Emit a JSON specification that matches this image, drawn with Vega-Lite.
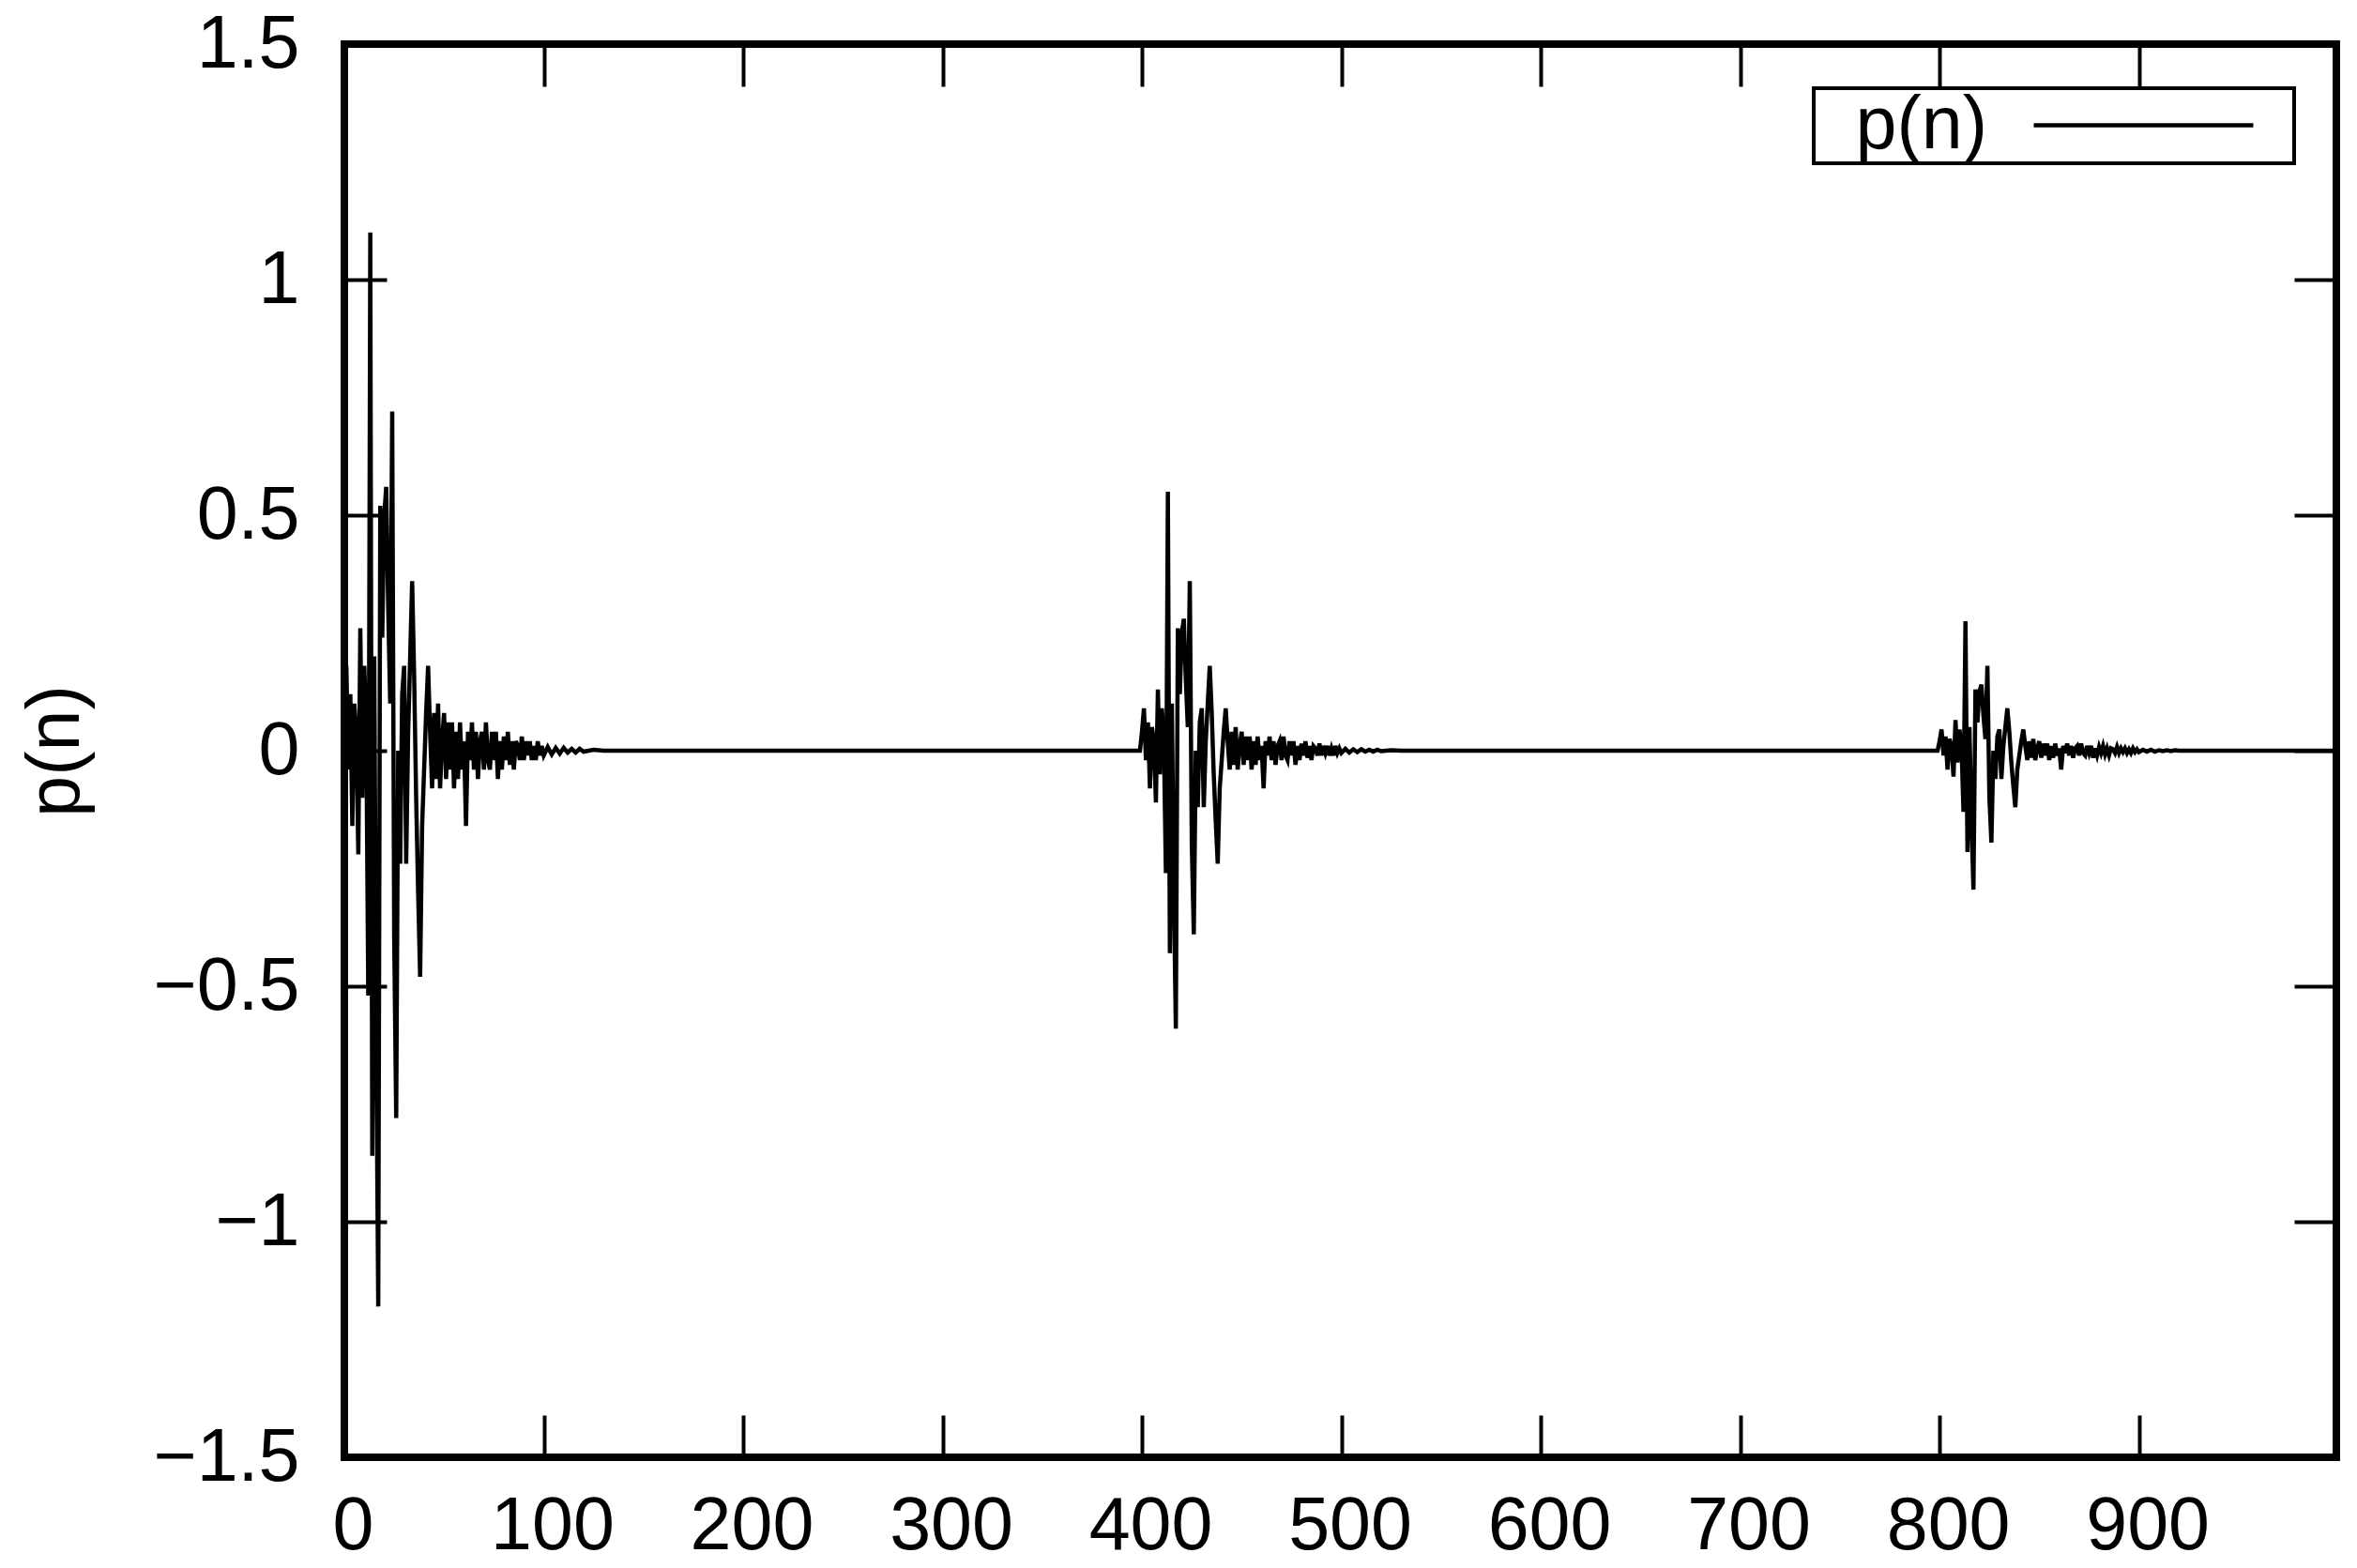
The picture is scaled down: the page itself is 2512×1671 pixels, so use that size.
{
  "$schema": "https://vega.github.io/schema/vega-lite/v6.json",
  "width": 2123,
  "height": 1506,
  "autosize": {"type": "none"},
  "padding": {"left": 367, "top": 47, "right": 22, "bottom": 118},
  "background": "white",
  "config": {
    "view": {"stroke": "black", "strokeWidth": 8},
    "font": "Liberation Sans",
    "axis": {
      "domain": false,
      "grid": false,
      "labelFont": "Liberation Sans",
      "labelFontSize": 79,
      "labelColor": "black",
      "labelFlush": false,
      "labelOverlap": false,
      "labelBound": false,
      "tickColor": "black",
      "tickWidth": 4,
      "tickSize": -45,
      "titleFont": "Liberation Sans",
      "titleFontSize": 79,
      "titleFontWeight": "normal",
      "titleColor": "black"
    },
    "legend": {
      "padding": 0,
      "strokeColor": "black",
      "strokeWidth": 4,
      "symbolType": "M-6,0H6M7.75,0",
      "symbolSize": 1521,
      "symbolOffset": 312,
      "symbolStrokeColor": "black",
      "symbolStrokeWidth": 4.5,
      "symbolFillColor": "transparent",
      "labelFont": "Liberation Sans",
      "labelFontSize": 79,
      "labelColor": "black",
      "labelAlign": "right",
      "labelOffset": -206
    }
  },
  "data": {
    "values": [
      {"n":0,"p":0.08},{"n":1,"p":0.18},{"n":2,"p":-0.04},{"n":3,"p":0.12},{"n":4,"p":-0.16},{"n":5,"p":0.1},{"n":6,"p":0.04},{"n":7,"p":-0.22},{"n":8,"p":0.26},{"n":9,"p":-0.1},
      {"n":10,"p":0.18},{"n":11,"p":0.04},{"n":12,"p":-0.52},{"n":13,"p":1.1},{"n":14,"p":-0.86},{"n":15,"p":0.2},{"n":16,"p":-0.6},{"n":17,"p":-1.18},{"n":18,"p":0.52},{"n":19,"p":0.24},
      {"n":20,"p":0.5},{"n":21,"p":0.56},{"n":22,"p":0.3},{"n":23,"p":0.1},{"n":24,"p":0.72},{"n":25,"p":-0.4},{"n":26,"p":-0.78},{"n":27,"p":0},{"n":28,"p":-0.24},{"n":29,"p":0.12},
      {"n":30,"p":0.18},{"n":31,"p":-0.24},{"n":32,"p":0.04},{"n":33,"p":0.2},{"n":34,"p":0.36},{"n":35,"p":0.16},{"n":36,"p":-0.1},{"n":37,"p":-0.3},{"n":38,"p":-0.48},{"n":39,"p":-0.16},
      {"n":40,"p":-0.04},{"n":41,"p":0.08},{"n":42,"p":0.18},{"n":43,"p":0.04},{"n":44,"p":-0.08},{"n":45,"p":0.08},{"n":46,"p":-0.06},{"n":47,"p":0.1},{"n":48,"p":-0.08},{"n":49,"p":0.02},
      {"n":50,"p":0.08},{"n":51,"p":-0.06},{"n":52,"p":0.06},{"n":53,"p":-0.04},{"n":54,"p":0.06},{"n":55,"p":-0.08},{"n":56,"p":0.04},{"n":57,"p":-0.06},{"n":58,"p":0.06},{"n":59,"p":-0.04},
      {"n":60,"p":0.02},{"n":61,"p":-0.16},{"n":62,"p":0.04},{"n":63,"p":-0.02},{"n":64,"p":0.06},{"n":65,"p":-0.04},{"n":66,"p":0.04},{"n":67,"p":-0.06},{"n":68,"p":0.02},{"n":69,"p":0.04},
      {"n":70,"p":-0.04},{"n":71,"p":0.06},{"n":72,"p":-0.02},{"n":73,"p":-0.04},{"n":74,"p":0.04},{"n":75,"p":-0.02},{"n":76,"p":0.04},{"n":77,"p":-0.06},{"n":78,"p":0.02},{"n":79,"p":-0.04},
      {"n":80,"p":0.03},{"n":81,"p":-0.02},{"n":82,"p":0.04},{"n":83,"p":-0.03},{"n":84,"p":0.02},{"n":85,"p":-0.04},{"n":86,"p":0.02},{"n":87,"p":0.01},{"n":88,"p":-0.02},{"n":89,"p":0.03},
      {"n":90,"p":-0.02},{"n":91,"p":0.02},{"n":92,"p":-0.01},{"n":93,"p":0.02},{"n":94,"p":-0.02},{"n":95,"p":0.01},{"n":96,"p":-0.02},{"n":97,"p":0.02},{"n":98,"p":-0.01},{"n":99,"p":0.01},
      {"n":100,"p":-0.01},{"n":102,"p":0.008},{"n":104,"p":-0.008},{"n":106,"p":0.006},{"n":108,"p":-0.006},{"n":110,"p":0.006},{"n":112,"p":-0.004},{"n":114,"p":0.004},{"n":116,"p":-0.004},{"n":118,"p":0.004},
      {"n":120,"p":-0.002},{"n":125,"p":0.002},{"n":130,"p":0},{"n":140,"p":0},{"n":150,"p":0},{"n":160,"p":0},{"n":170,"p":0},{"n":180,"p":0},{"n":190,"p":0},{"n":200,"p":0},
      {"n":210,"p":0},{"n":220,"p":0},{"n":230,"p":0},{"n":240,"p":0},{"n":250,"p":0},{"n":260,"p":0},{"n":270,"p":0},{"n":280,"p":0},{"n":290,"p":0},{"n":300,"p":0},
      {"n":310,"p":0},{"n":320,"p":0},{"n":330,"p":0},{"n":340,"p":0},{"n":350,"p":0},{"n":360,"p":0},{"n":370,"p":0},{"n":380,"p":0},{"n":390,"p":0},{"n":399,"p":0},
      {"n":400,"p":0.04},{"n":401,"p":0.09},{"n":402,"p":-0.02},{"n":403,"p":0.06},{"n":404,"p":-0.08},{"n":405,"p":0.05},{"n":406,"p":0.02},{"n":407,"p":-0.11},{"n":408,"p":0.13},{"n":409,"p":-0.05},
      {"n":410,"p":0.09},{"n":411,"p":0.02},{"n":412,"p":-0.26},{"n":413,"p":0.55},{"n":414,"p":-0.43},{"n":415,"p":0.1},{"n":416,"p":-0.3},{"n":417,"p":-0.59},{"n":418,"p":0.26},{"n":419,"p":0.12},
      {"n":420,"p":0.25},{"n":421,"p":0.28},{"n":422,"p":0.15},{"n":423,"p":0.05},{"n":424,"p":0.36},{"n":425,"p":-0.2},{"n":426,"p":-0.39},{"n":427,"p":0},{"n":428,"p":-0.12},{"n":429,"p":0.06},
      {"n":430,"p":0.09},{"n":431,"p":-0.12},{"n":432,"p":0.02},{"n":433,"p":0.1},{"n":434,"p":0.18},{"n":435,"p":0.08},{"n":436,"p":-0.05},{"n":437,"p":-0.15},{"n":438,"p":-0.24},{"n":439,"p":-0.08},
      {"n":440,"p":-0.02},{"n":441,"p":0.04},{"n":442,"p":0.09},{"n":443,"p":0.02},{"n":444,"p":-0.04},{"n":445,"p":0.04},{"n":446,"p":-0.03},{"n":447,"p":0.05},{"n":448,"p":-0.04},{"n":449,"p":0.01},
      {"n":450,"p":0.04},{"n":451,"p":-0.03},{"n":452,"p":0.03},{"n":453,"p":-0.02},{"n":454,"p":0.03},{"n":455,"p":-0.04},{"n":456,"p":0.02},{"n":457,"p":-0.03},{"n":458,"p":0.03},{"n":459,"p":-0.02},
      {"n":460,"p":0.01},{"n":461,"p":-0.08},{"n":462,"p":0.02},{"n":463,"p":-0.01},{"n":464,"p":0.03},{"n":465,"p":-0.02},{"n":466,"p":0.02},{"n":467,"p":-0.03},{"n":468,"p":0.01},{"n":469,"p":0.02},
      {"n":470,"p":-0.02},{"n":471,"p":0.03},{"n":472,"p":-0.01},{"n":473,"p":-0.02},{"n":474,"p":0.02},{"n":475,"p":-0.01},{"n":476,"p":0.02},{"n":477,"p":-0.03},{"n":478,"p":0.01},{"n":479,"p":-0.02},
      {"n":480,"p":0.015},{"n":481,"p":-0.01},{"n":482,"p":0.02},{"n":483,"p":-0.015},{"n":484,"p":0.01},{"n":485,"p":-0.02},{"n":486,"p":0.01},{"n":487,"p":0.005},{"n":488,"p":-0.01},{"n":489,"p":0.015},
      {"n":490,"p":-0.01},{"n":491,"p":0.01},{"n":492,"p":-0.005},{"n":493,"p":0.01},{"n":494,"p":-0.01},{"n":495,"p":0.005},{"n":496,"p":-0.01},{"n":497,"p":0.01},{"n":498,"p":-0.005},{"n":499,"p":0.005},
      {"n":500,"p":-0.005},{"n":502,"p":0.004},{"n":504,"p":-0.004},{"n":506,"p":0.003},{"n":508,"p":-0.003},{"n":510,"p":0.003},{"n":512,"p":-0.002},{"n":514,"p":0.002},{"n":516,"p":-0.002},{"n":518,"p":0.002},
      {"n":520,"p":-0.001},{"n":525,"p":0.001},{"n":530,"p":0},{"n":540,"p":0},{"n":550,"p":0},{"n":560,"p":0},{"n":570,"p":0},{"n":580,"p":0},{"n":590,"p":0},{"n":600,"p":0},
      {"n":610,"p":0},{"n":620,"p":0},{"n":630,"p":0},{"n":640,"p":0},{"n":650,"p":0},{"n":660,"p":0},{"n":670,"p":0},{"n":680,"p":0},{"n":690,"p":0},{"n":700,"p":0},
      {"n":710,"p":0},{"n":720,"p":0},{"n":730,"p":0},{"n":740,"p":0},{"n":750,"p":0},{"n":760,"p":0},{"n":770,"p":0},{"n":780,"p":0},{"n":790,"p":0},{"n":799,"p":0},
      {"n":800,"p":0.02},{"n":801,"p":0.045},{"n":802,"p":-0.01},{"n":803,"p":0.03},{"n":804,"p":-0.04},{"n":805,"p":0.025},{"n":806,"p":0.01},{"n":807,"p":-0.055},{"n":808,"p":0.065},{"n":809,"p":-0.025},
      {"n":810,"p":0.045},{"n":811,"p":0.01},{"n":812,"p":-0.13},{"n":813,"p":0.275},{"n":814,"p":-0.215},{"n":815,"p":0.05},{"n":816,"p":-0.15},{"n":817,"p":-0.295},{"n":818,"p":0.13},{"n":819,"p":0.06},
      {"n":820,"p":0.125},{"n":821,"p":0.14},{"n":822,"p":0.075},{"n":823,"p":0.025},{"n":824,"p":0.18},{"n":825,"p":-0.1},{"n":826,"p":-0.195},{"n":827,"p":0},{"n":828,"p":-0.06},{"n":829,"p":0.03},
      {"n":830,"p":0.045},{"n":831,"p":-0.06},{"n":832,"p":0.01},{"n":833,"p":0.05},{"n":834,"p":0.09},{"n":835,"p":0.04},{"n":836,"p":-0.025},{"n":837,"p":-0.075},{"n":838,"p":-0.12},{"n":839,"p":-0.04},
      {"n":840,"p":-0.01},{"n":841,"p":0.02},{"n":842,"p":0.045},{"n":843,"p":0.01},{"n":844,"p":-0.02},{"n":845,"p":0.02},{"n":846,"p":-0.015},{"n":847,"p":0.025},{"n":848,"p":-0.02},{"n":849,"p":0.005},
      {"n":850,"p":0.02},{"n":851,"p":-0.015},{"n":852,"p":0.015},{"n":853,"p":-0.01},{"n":854,"p":0.015},{"n":855,"p":-0.02},{"n":856,"p":0.01},{"n":857,"p":-0.015},{"n":858,"p":0.015},{"n":859,"p":-0.01},
      {"n":860,"p":0.005},{"n":861,"p":-0.04},{"n":862,"p":0.01},{"n":863,"p":-0.005},{"n":864,"p":0.015},{"n":865,"p":-0.01},{"n":866,"p":0.01},{"n":867,"p":-0.015},{"n":868,"p":0.005},{"n":869,"p":0.01},
      {"n":870,"p":-0.01},{"n":871,"p":0.015},{"n":872,"p":-0.005},{"n":873,"p":-0.01},{"n":874,"p":0.01},{"n":875,"p":-0.005},{"n":876,"p":0.01},{"n":877,"p":-0.015},{"n":878,"p":0.005},{"n":879,"p":-0.01},
      {"n":880,"p":0.008},{"n":881,"p":-0.005},{"n":882,"p":0.01},{"n":883,"p":-0.008},{"n":884,"p":0.005},{"n":885,"p":-0.01},{"n":886,"p":0.005},{"n":887,"p":0.003},{"n":888,"p":-0.005},{"n":889,"p":0.008},
      {"n":890,"p":-0.005},{"n":891,"p":0.005},{"n":892,"p":-0.003},{"n":893,"p":0.005},{"n":894,"p":-0.005},{"n":895,"p":0.003},{"n":896,"p":-0.005},{"n":897,"p":0.005},{"n":898,"p":-0.003},{"n":899,"p":0.003},
      {"n":900,"p":-0.003},{"n":902,"p":0.002},{"n":904,"p":-0.002},{"n":906,"p":0.002},{"n":908,"p":-0.002},{"n":910,"p":0.001},{"n":912,"p":-0.001},{"n":914,"p":0.001},{"n":916,"p":-0.001},{"n":918,"p":0.001},
      {"n":920,"p":0},{"n":930,"p":0},{"n":940,"p":0},{"n":950,"p":0},{"n":960,"p":0},{"n":970,"p":0},{"n":980,"p":0},{"n":990,"p":0},{"n":999,"p":0}
    ]
  },
  "layer": [
    {
      "mark": {"type": "line", "color": "black", "strokeWidth": 4.5, "strokeJoin": "miter"},
      "encoding": {
        "x": {
          "field": "n",
          "type": "quantitative",
          "scale": {"domain": [0, 999], "nice": false, "zero": false},
          "axis": {
            "orient": "bottom",
            "title": null,
            "values": [0, 100, 200, 300, 400, 500, 600, 700, 800, 900],
            "labelPadding": 80,
            "labelOffset": 9
          }
        },
        "y": {
          "field": "p",
          "type": "quantitative",
          "scale": {"domain": [-1.5, 1.5], "nice": false},
          "axis": {
            "orient": "left",
            "title": "p(n)",
            "format": "~g",
            "values": [-1.5, -1, -0.5, 0, 0.5, 1, 1.5],
            "labelPadding": 93,
            "titleX": -308,
            "titleY": 753,
            "titleBaseline": "middle",
            "titleAlign": "center",
            "titleAngle": -90
          }
        },
        "color": {
          "datum": "p(n)",
          "scale": {"range": ["black"]},
          "legend": {
            "orient": "none",
            "legendX": 1566,
            "legendY": 47,
            "title": null
          }
        }
      }
    },
    {
      "mark": {"type": "line", "opacity": 0},
      "encoding": {
        "x": {
          "field": "n",
          "type": "quantitative",
          "axis": {"orient": "top", "labels": false, "title": null, "values": [0, 100, 200, 300, 400, 500, 600, 700, 800, 900]}
        },
        "y": {
          "field": "p",
          "type": "quantitative",
          "axis": {"orient": "right", "labels": false, "title": null, "values": [-1.5, -1, -0.5, 0, 0.5, 1, 1.5]}
        }
      }
    }
  ],
  "resolve": {"axis": {"x": "independent", "y": "independent"}}
}
